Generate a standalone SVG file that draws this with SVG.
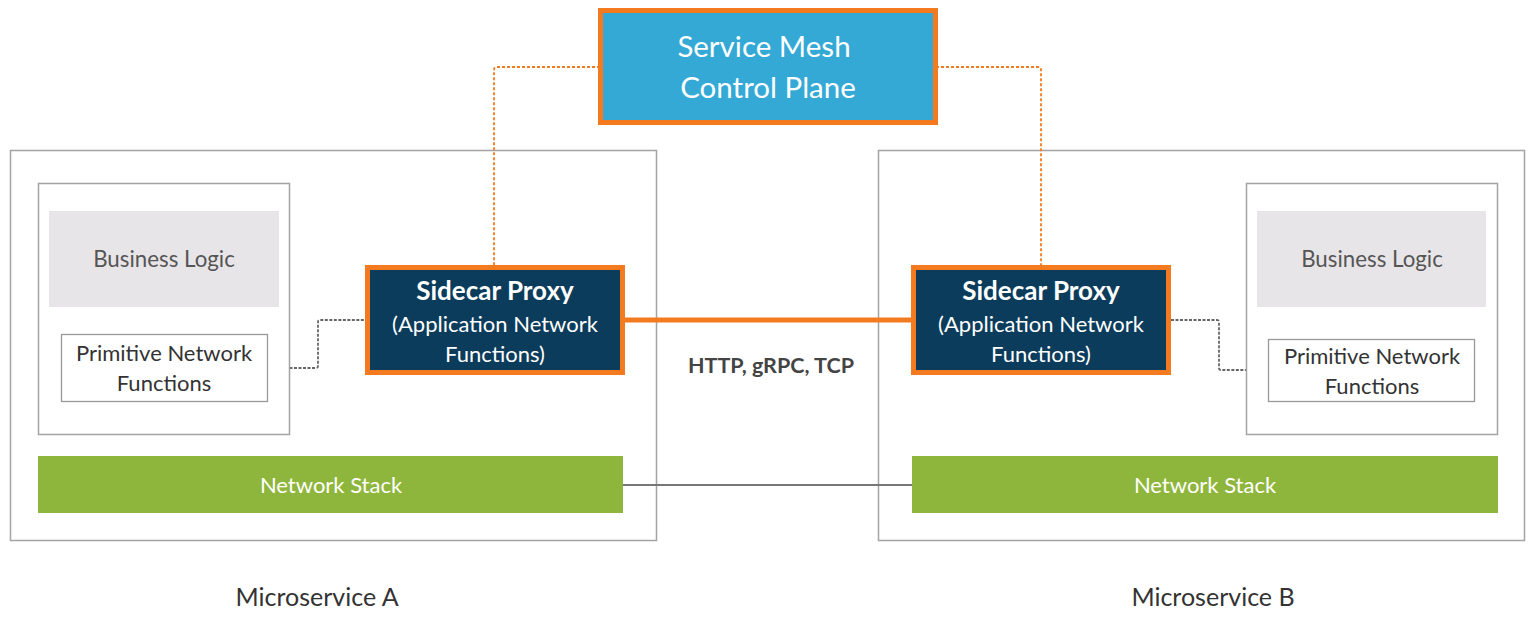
<svg xmlns="http://www.w3.org/2000/svg" width="1536" height="635" viewBox="0 0 1536 635">
<style>
.t{font-family:Lato,"Open Sans","Liberation Sans",sans-serif;text-anchor:middle}
.box{fill:#fff;stroke:#a3a3a3;stroke-width:1.5}
.bl{fill:#e8e5e8}
.pnf{fill:#fff;stroke:#999;stroke-width:1.3}
.side{fill:#0b3c5b;stroke:#f47a20;stroke-width:5}
.ns{fill:#8fb63c}
.w{fill:#fff}
.orl{fill:none;stroke:#f47a20;stroke-width:1.8;stroke-dasharray:3 2}
.gdl{fill:none;stroke:#666;stroke-width:1.8;stroke-dasharray:3 1.5}
</style>
<rect width="1536" height="635" fill="#fff"/>
<g id="microserviceA">
<rect class="box" x="10.5" y="150.5" width="646" height="390"/>
<text class="t" x="317" y="606" font-size="25" fill="#333">Microservice A</text>
</g>
<g id="microserviceB">
<rect class="box" x="878.5" y="150.5" width="646" height="390"/>
<text class="t" x="1213" y="606" font-size="25" fill="#333">Microservice B</text>
</g>
<g id="connectors">
<path class="orl" d="M600 67 H497 Q494 67 494 70 V266"/>
<path class="orl" d="M936 67 H1038 Q1041 67 1041 70 V266"/>
<path class="gdl" d="M267 368 H316 Q318 368 318 366 V322 Q318 320 320 320 H365"/>
<path class="gdl" d="M1171 320 H1217 Q1219 320 1219 322 V368 Q1219 370 1221 370 H1268"/>
<line x1="625" y1="320" x2="912" y2="320" stroke="#f47a20" stroke-width="5"/>
<line x1="623" y1="485" x2="913" y2="485" stroke="#777" stroke-width="2"/>
<text class="t" x="771" y="373" font-size="21.5" font-weight="bold" fill="#444">HTTP, gRPC, TCP</text>
</g>
<g id="controlPlane">
<rect x="600.5" y="10.5" width="335" height="112" fill="#35a9d6" stroke="#f47a20" stroke-width="5"/>
<text class="t w" x="764" y="57" font-size="29.5">Service Mesh</text>
<text class="t w" x="768" y="98" font-size="29.5">Control Plane</text>
</g>
<g id="appA">
<rect class="box" x="38.5" y="183.5" width="251" height="251"/>
<rect class="bl" x="49" y="211" width="230" height="96"/>
<text class="t" x="164" y="267" font-size="22.3" fill="#555">Business Logic</text>
</g>
<g id="pnfA">
<rect class="pnf" x="61.5" y="334.5" width="206" height="67"/>
<text class="t" x="164" y="361" font-size="22" fill="#333">Primitive Network</text>
<text class="t" x="164" y="391" font-size="22" fill="#333">Functions</text>
</g>
<g id="sidecarA">
<rect class="side" x="367.5" y="267.5" width="255" height="105"/>
<text class="t w" x="495" y="300" font-size="26" font-weight="bold">Sidecar Proxy</text>
<text class="t w" x="495" y="332" font-size="22">(Application Network</text>
<text class="t w" x="495" y="362" font-size="22">Functions)</text>
</g>
<g id="netStackA">
<rect class="ns" x="38" y="456" width="585" height="57"/>
<text class="t w" x="331" y="493" font-size="22">Network Stack</text>
</g>
<g id="appB">
<rect class="box" x="1246.5" y="183.5" width="251" height="251"/>
<rect class="bl" x="1257" y="211" width="229" height="96"/>
<text class="t" x="1372" y="267" font-size="22.3" fill="#555">Business Logic</text>
</g>
<g id="pnfB">
<rect class="pnf" x="1268.5" y="339.5" width="206" height="62"/>
<text class="t" x="1372" y="364" font-size="22" fill="#333">Primitive Network</text>
<text class="t" x="1372" y="394" font-size="22" fill="#333">Functions</text>
</g>
<g id="sidecarB">
<rect class="side" x="913.5" y="267.5" width="255" height="105"/>
<text class="t w" x="1041" y="300" font-size="26" font-weight="bold">Sidecar Proxy</text>
<text class="t w" x="1041" y="332" font-size="22">(Application Network</text>
<text class="t w" x="1041" y="362" font-size="22">Functions)</text>
</g>
<g id="netStackB">
<rect class="ns" x="912" y="456" width="586" height="57"/>
<text class="t w" x="1205" y="493" font-size="22">Network Stack</text>
</g>
</svg>
